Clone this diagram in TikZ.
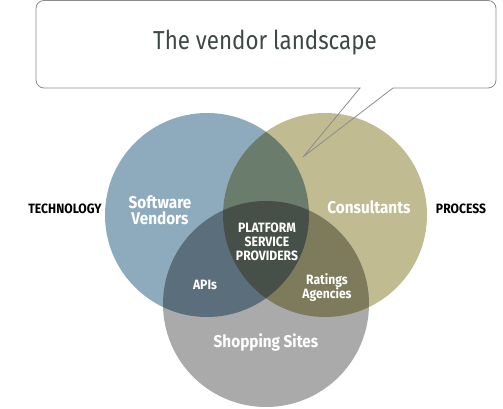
\documentclass[tikz,border=0pt]{standalone}
\usepackage{fontspec}
\setmainfont{Fira Sans}
\newfontfamily\condbold[FakeStretch=0.9]{Fira Sans}
\newfontfamily\condreg[FakeStretch=0.86]{Fira Sans}
\definecolor{cA}{HTML}{8EAABD}
\definecolor{cB}{HTML}{C0BB90}
\definecolor{cC}{HTML}{AAAAAA}
\definecolor{cAB}{HTML}{6A7D6C}
\definecolor{cAC}{HTML}{5B6E7C}
\definecolor{cBC}{HTML}{7E7A5C}
\definecolor{cABC}{HTML}{465048}
\definecolor{titlec}{HTML}{3E4943}
\definecolor{boxline}{HTML}{8C8C8C}
\tikzset{
  inlabel/.style={text=white, font=\condbold\bfseries\fontsize{17}{16.5}\selectfont, align=center, inner sep=0pt},
  smlabel/.style={text=white, font=\condbold\bfseries\fontsize{13.5}{14}\selectfont, align=center, inner sep=0pt},
  sidelabel/.style={text=black, font=\condbold\bfseries\fontsize{13.5}{14}\selectfont, inner sep=0pt},
}
\begin{document}
\begin{tikzpicture}[x=1pt,y=-1pt]
\useasboundingbox (0,0) rectangle (503,409);
\coordinate (A) at (207,215);
\coordinate (B) at (325,215);
\coordinate (C) at (266,304);
\def\rA{102}\def\rB{102}\def\rC{103}
\fill[cA] (A) circle[radius=\rA];
\fill[cB] (B) circle[radius=\rB];
\fill[cC] (C) circle[radius=\rC];
\begin{scope}\clip (A) circle[radius=\rA]; \fill[cAB] (B) circle[radius=\rB];\end{scope}
\begin{scope}\clip (A) circle[radius=\rA]; \fill[cAC] (C) circle[radius=\rC];\end{scope}
\begin{scope}\clip (B) circle[radius=\rB]; \fill[cBC] (C) circle[radius=\rC];\end{scope}
\begin{scope}\clip (A) circle[radius=\rA]; \clip (B) circle[radius=\rB]; \fill[cABC] (C) circle[radius=\rC];\end{scope}
% callout
\coordinate (tip) at (303,157);
\draw[boxline, line width=0.8pt] (tip) -- (393,88) [rounded corners=8] -- (496,88) -- (496,0.5) -- (36,0.5) -- (36,88) [sharp corners] -- (360,88) -- (tip);
\node (title) [text=titlec, font=\condreg\fontsize{26}{26}\selectfont, inner sep=0pt] at (265,43) {The vendor landscape};
% labels
\node (tech) [sidelabel] at (65,209) {TECHNOLOGY};
\node (proc) [sidelabel] at (461,209) {PROCESS};
\node (sv) [inlabel] at (160,210) {Software\\Vendors};
\node (cons) [inlabel] at (369,207) {Consultants};
\node (psp) [smlabel] at (267,242) {PLATFORM\\SERVICE\\PROVIDERS};
\node (apis) [smlabel] at (205,285) {APIs};
\node (ra) [smlabel] at (327,288) {Ratings\\Agencies};
\node (shop) [inlabel] at (266,342) {Shopping Sites};
\end{tikzpicture}
\end{document}
